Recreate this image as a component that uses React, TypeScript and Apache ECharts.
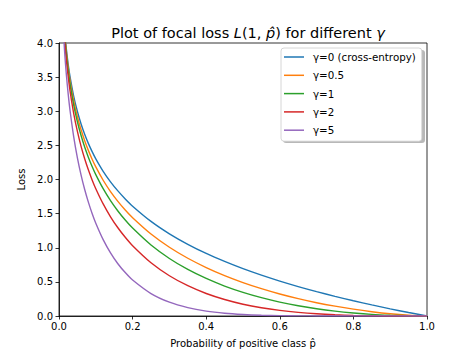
import React, { useEffect, useRef } from "react";
import * as echarts from "echarts";

const probs = [0.01, 0.015, 0.02, 0.025, 0.03, 0.04, 0.05, 0.06, 0.07, 0.08, 0.09, 0.1, 0.12, 0.14, 0.16, 0.18, 0.2, 0.25, 0.3, 0.35, 0.4, 0.45, 0.5, 0.55, 0.6, 0.65, 0.7, 0.75, 0.8, 0.85, 0.9, 0.95, 1.0];

const lossG0 = [4.605, 4.200, 3.912, 3.689, 3.507, 3.219, 2.996, 2.813, 2.659, 2.526, 2.408, 2.303, 2.120, 1.966, 1.833, 1.715, 1.609, 1.386, 1.204, 1.050, 0.916, 0.799, 0.693, 0.598, 0.511, 0.431, 0.357, 0.288, 0.223, 0.163, 0.105, 0.051, 0];
const lossG05 = [4.582, 4.168, 3.873, 3.642, 3.454, 3.154, 2.920, 2.728, 2.565, 2.423, 2.297, 2.184, 1.989, 1.823, 1.680, 1.553, 1.440, 1.201, 1.007, 0.846, 0.710, 0.592, 0.490, 0.401, 0.323, 0.255, 0.195, 0.144, 0.100, 0.063, 0.033, 0.012, 0];
const lossG1 = [4.559, 4.137, 3.834, 3.597, 3.401, 3.090, 2.846, 2.645, 2.473, 2.324, 2.191, 2.072, 1.866, 1.691, 1.539, 1.406, 1.288, 1.040, 0.843, 0.682, 0.550, 0.439, 0.347, 0.269, 0.204, 0.151, 0.107, 0.072, 0.045, 0.024, 0.011, 0.003, 0];
const lossG2 = [4.514, 4.075, 3.757, 3.507, 3.299, 2.967, 2.704, 2.486, 2.300, 2.138, 1.994, 1.865, 1.642, 1.454, 1.293, 1.153, 1.030, 0.780, 0.590, 0.444, 0.330, 0.242, 0.173, 0.121, 0.082, 0.053, 0.032, 0.018, 0.009, 0.004, 0.001, 0.0001, 0];
const lossG5 = [4.380, 3.894, 3.536, 3.250, 3.011, 2.625, 2.318, 2.065, 1.850, 1.665, 1.503, 1.360, 1.119, 0.925, 0.766, 0.636, 0.527, 0.329, 0.202, 0.122, 0.071, 0.040, 0.022, 0.011, 0.005, 0.002, 0.001, 0.0003, 0.0001, 0, 0, 0, 0];

const seriesNames = ["γ=0 (cross-entropy)", "γ=0.5", "γ=1", "γ=2", "γ=5"];
const seriesValues = [lossG0, lossG05, lossG1, lossG2, lossG5];
const colors = ["#1f77b4", "#ff7f0e", "#2ca02c", "#d62728", "#9467bd"];

const xTicks = { min: 0, max: 1, interval: 0.2 };
const yTicks = { min: 0, max: 4, interval: 0.5 };

const FONT = "DejaVu Sans";

export default function App() {
  const ref = useRef<HTMLDivElement>(null);
  useEffect(() => {
    if (!ref.current) return;
    const chart = echarts.init(ref.current, null, { renderer: "svg" });
    const series = seriesNames.map((name, i) => ({
      name,
      type: "line",
      data: probs.map((p, j) => [p, seriesValues[i][j]]),
      showSymbol: false,
      symbol: "none",
      smooth: 0.3,
      clip: true,
      lineStyle: { color: colors[i], width: 1.4 },
      itemStyle: { color: colors[i] },
    }));
    chart.setOption({
      animation: false,
      backgroundColor: "#fff",
      textStyle: { fontFamily: FONT },
      title: {
        text: "{n|Plot of focal loss }{i|L}{n|(1, }{i|p̂}{n|) for different }{i|γ}",
        left: 243,
        textAlign: "center",
        top: 20,
        textStyle: {
          fontWeight: "normal",
          rich: {
            n: { fontFamily: FONT, fontSize: 14.5, fontWeight: "normal", color: "#000" },
            i: { fontFamily: FONT, fontSize: 14.5, fontWeight: "normal", fontStyle: "italic", color: "#000" },
          },
        },
      },
      grid: {
        left: 59,
        right: 47,
        top: 43,
        bottom: 39,
        show: true,
        borderColor: "#000",
        borderWidth: 0.8,
        backgroundColor: "transparent",
      },
      legend: {
        orient: "vertical",
        left: 281,
        top: 48,
        padding: [3, 6, 5, 3],
        itemWidth: 20,
        itemHeight: 1.5,
        itemGap: 6.3,
        icon: "rect",
        backgroundColor: "#ffffff",
        borderColor: "#cccccc",
        borderWidth: 0.8,
        borderRadius: 3,
        textStyle: { fontFamily: FONT, fontSize: 10.3, color: "#000", lineHeight: 12, padding: [0, 0, 0, 4] },
        data: seriesNames,
      },
      graphic: [
        {
          type: "rect",
          shape: { x: 283, y: 50, width: 142, height: 93, r: 3 },
          style: { fill: "rgba(0,0,0,0.28)" },
          z: 3,
          silent: true,
        },
      ],
      xAxis: {
        type: "value",
        min: xTicks.min,
        max: xTicks.max,
        interval: xTicks.interval,
        name: "Probability of positive class p̂",
        nameLocation: "middle",
        nameGap: 22,
        nameTextStyle: { fontFamily: FONT, fontSize: 10, color: "#000" },
        axisLine: { show: true, lineStyle: { color: "#000", width: 0.8 } },
        axisTick: { show: true, inside: false, length: 3.5, lineStyle: { color: "#000", width: 0.8 } },
        axisLabel: { fontFamily: FONT, fontSize: 10, color: "#000", margin: 5, formatter: (v: number) => v.toFixed(1) },
        splitLine: { show: false },
      },
      yAxis: {
        type: "value",
        min: yTicks.min,
        max: yTicks.max,
        interval: yTicks.interval,
        name: "Loss",
        nameLocation: "middle",
        nameGap: 30,
        nameRotate: 90,
        nameTextStyle: { fontFamily: FONT, fontSize: 10, color: "#000" },
        axisLine: { show: true, lineStyle: { color: "#000", width: 0.8 } },
        axisTick: { show: true, inside: false, length: 3.5, lineStyle: { color: "#000", width: 0.8 } },
        axisLabel: { fontFamily: FONT, fontSize: 10, color: "#000", margin: 6, formatter: (v: number) => v.toFixed(1) },
        splitLine: { show: false },
      },
      series,
    });
    return () => chart.dispose();
  }, []);
  return <div ref={ref} style={{ position: "fixed", left: 0, top: 0, width: 474, height: 355 }} />;
}
